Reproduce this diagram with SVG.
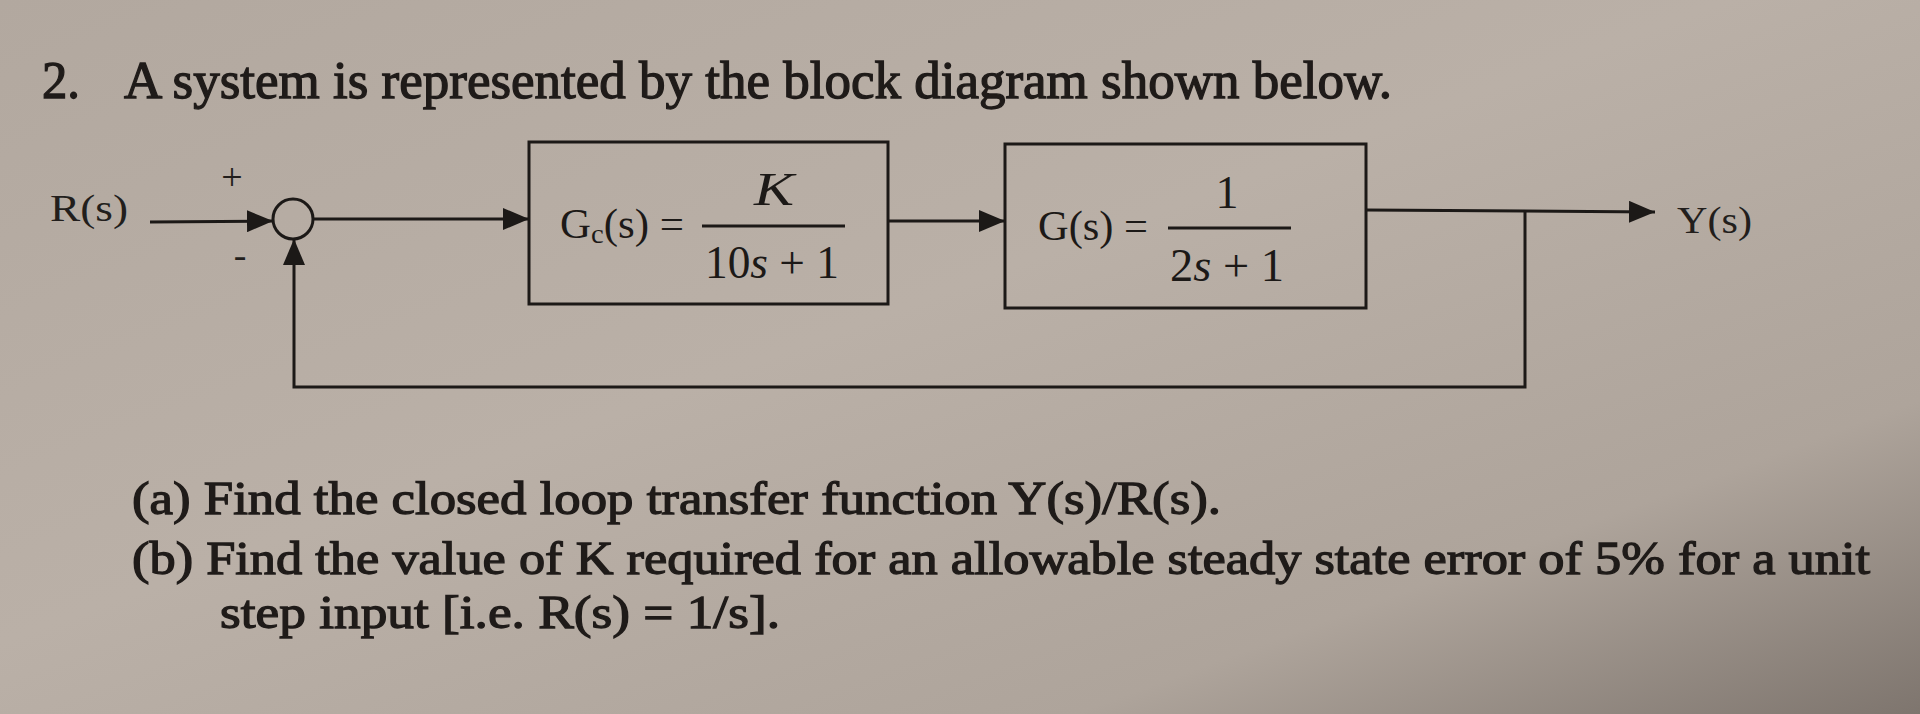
<svg xmlns="http://www.w3.org/2000/svg" width="1920" height="714" viewBox="0 0 1920 714">
<defs>
<linearGradient id="bg" x1="0" y1="0" x2="1" y2="1">
<stop offset="0" stop-color="#b2a89f"/>
<stop offset="0.45" stop-color="#bab0a7"/>
<stop offset="0.78" stop-color="#aea49b"/>
<stop offset="1" stop-color="#7e756e"/>
</linearGradient>
<marker id="ah" viewBox="0 0 26 22" refX="26" refY="11" markerWidth="26" markerHeight="22" markerUnits="userSpaceOnUse" orient="auto">
<path d="M0,0 L26,11 L0,22 Z" fill="#1c1917"/>
</marker>
<style>
.q{font-family:"Liberation Serif","Times New Roman",serif;font-size:52px;fill:#1f1b19;stroke:#1f1b19;stroke-width:1.3}
.qs{font-size:47px}
.lbl{font-family:"Liberation Serif","Times New Roman",serif;font-size:38px;fill:#221e1c}
.ex{font-family:"Liberation Serif","Times New Roman",serif;font-size:46px;fill:#1c1917}
.eq{font-family:"Liberation Serif","Times New Roman",serif;font-size:42px;fill:#1c1917}
.it{font-style:italic}
.box{fill:none;stroke:#1c1917;stroke-width:3}
.ln{fill:none;stroke:#1c1917;stroke-width:3}
</style>
</defs>
<rect x="0" y="0" width="1920" height="714" fill="url(#bg)"/>

<text class="q" x="42" y="98" textLength="38" lengthAdjust="spacingAndGlyphs">2.</text>
<text class="q" x="124" y="98" textLength="1268" lengthAdjust="spacingAndGlyphs">A system is represented by the block diagram shown below.</text>

<g id="R">
<text class="lbl" x="50" y="221" textLength="78" lengthAdjust="spacingAndGlyphs">R(s)</text>
</g>
<g id="Y">
<text class="lbl" x="1677" y="233" textLength="75" lengthAdjust="spacingAndGlyphs">Y(s)</text>
</g>

<g id="sum">
<circle cx="293" cy="219" r="20" fill="none" stroke="#1c1917" stroke-width="3"/>
<text class="lbl" x="232" y="190" text-anchor="middle" font-size="30">+</text>
<text class="lbl" x="240" y="268" text-anchor="middle" font-size="34">-</text>
</g>

<g id="Gc">
<rect class="box" x="529" y="142" width="359" height="162"/>
<text class="eq" x="560" y="238" textLength="124" lengthAdjust="spacingAndGlyphs">G<tspan font-size="28" dy="5">c</tspan><tspan dy="-5">(s) =</tspan></text>
<line class="ln" x1="702" y1="226" x2="845" y2="226"/>
<text class="ex it" x="754" y="205" textLength="40" lengthAdjust="spacingAndGlyphs">K</text>
<text class="ex" x="705" y="278" textLength="134" lengthAdjust="spacingAndGlyphs">10<tspan class="it">s</tspan> + 1</text>
</g>

<g id="G">
<rect class="box" x="1005" y="144" width="361" height="164"/>
<text class="eq" x="1038" y="240" textLength="110" lengthAdjust="spacingAndGlyphs">G(s) =</text>
<line class="ln" x1="1168" y1="228" x2="1291" y2="228"/>
<text class="ex" x="1227" y="208" text-anchor="middle">1</text>
<text class="ex" x="1170" y="281" textLength="114" lengthAdjust="spacingAndGlyphs">2<tspan class="it">s</tspan> + 1</text>
</g>

<g id="connectors">
<line class="ln" x1="150" y1="222" x2="273" y2="221" marker-end="url(#ah)"/>
<line class="ln" x1="313" y1="219" x2="529" y2="219" marker-end="url(#ah)"/>
<line class="ln" x1="888" y1="221" x2="1005" y2="221" marker-end="url(#ah)"/>
<line class="ln" x1="1366" y1="210" x2="1655" y2="212" marker-end="url(#ah)"/>
<polyline class="ln" points="1525,211 1525,387 294,387 294,239" marker-end="url(#ah)"/>
</g>

<text class="q qs" x="132" y="514" textLength="1089" lengthAdjust="spacingAndGlyphs">(a) Find the closed loop transfer function Y(s)/R(s).</text>
<text class="q qs" x="132" y="574" textLength="1738" lengthAdjust="spacingAndGlyphs">(b) Find the value of K required for an allowable steady state error of 5% for a unit</text>
<text class="q qs" x="220" y="628" textLength="560" lengthAdjust="spacingAndGlyphs">step input [i.e. R(s) = 1/s].</text>
</svg>
